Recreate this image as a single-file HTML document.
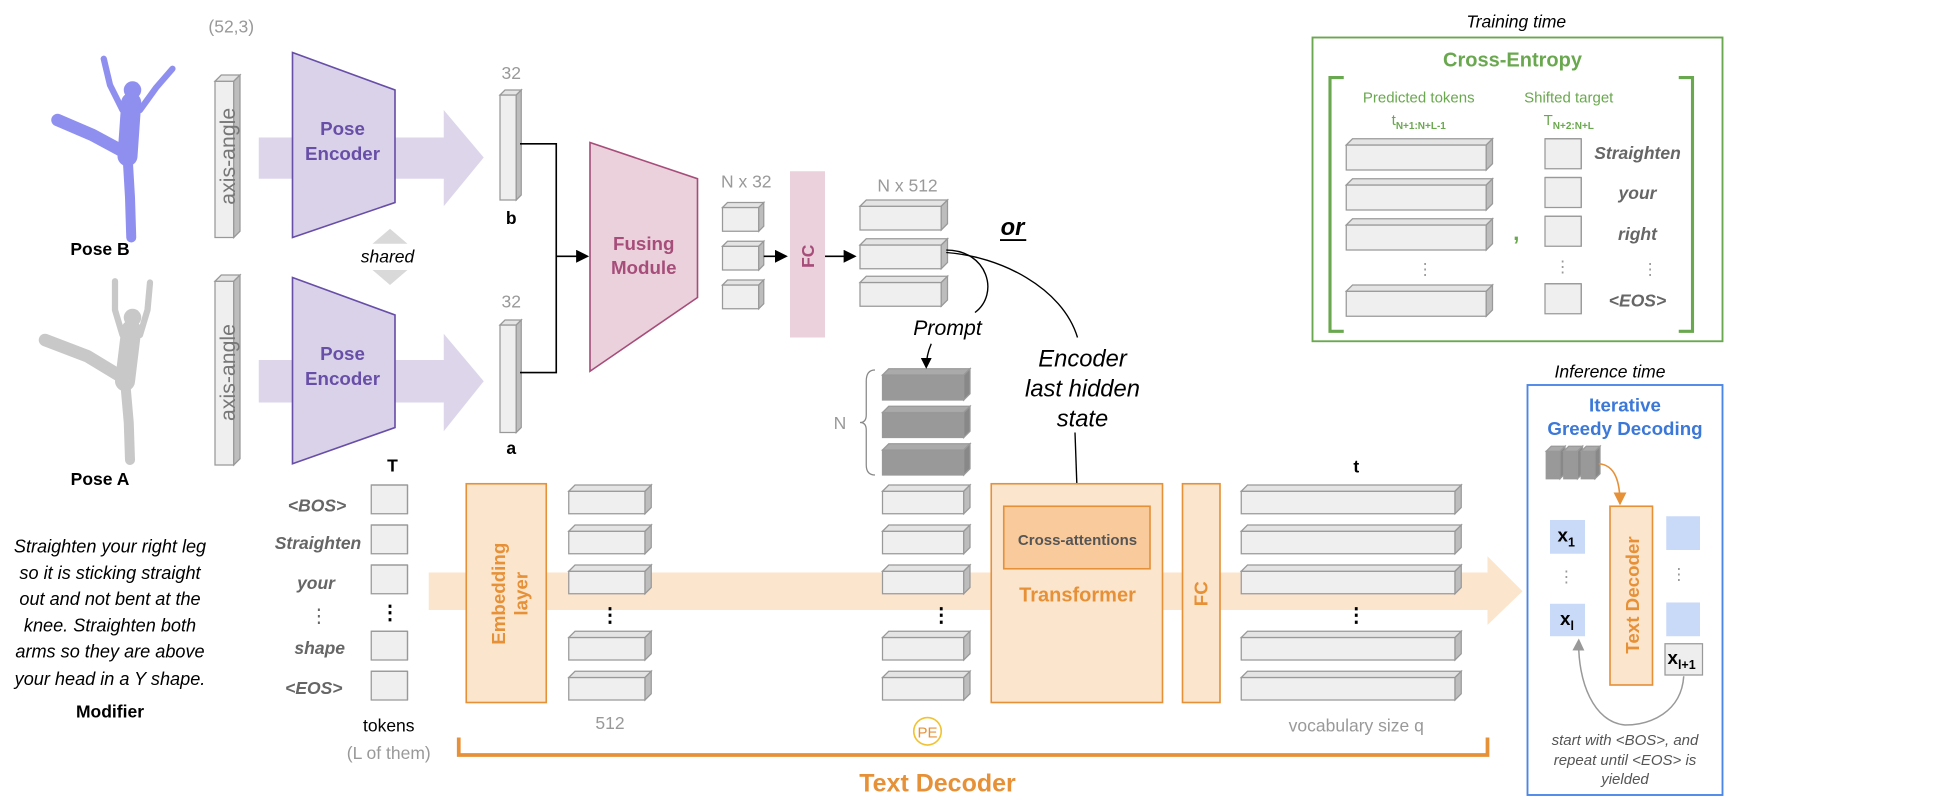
<!DOCTYPE html>
<html><head><meta charset="utf-8">
<style>
html,body{margin:0;padding:0;background:#fff;}
svg{display:block;}
text{font-family:"Liberation Sans",sans-serif;}
</style></head>
<body>
<svg id="s" width="1952" height="797" viewBox="0 0 1561.6 637.6" xmlns="http://www.w3.org/2000/svg">
<defs>
<marker id="ak" markerWidth="8" markerHeight="8" refX="7" refY="4" orient="auto"><path d="M0,0 L8,4 L0,8 z" fill="#000"/></marker>
<marker id="ao" markerWidth="8" markerHeight="8" refX="7" refY="4" orient="auto"><path d="M0,0 L8,4 L0,8 z" fill="#e69138"/></marker>
<marker id="ag" markerWidth="8" markerHeight="8" refX="7" refY="4" orient="auto"><path d="M0,0 L8,4 L0,8 z" fill="#999"/></marker>
</defs>

<!-- figures -->
<g stroke="#8f8ff0" stroke-linecap="round" stroke-linejoin="round" fill="none">
<circle cx="106" cy="72" r="7" fill="#8f8ff0" stroke="none"/>
<path d="M105,82 L102,125" stroke-width="16"/>
<path d="M98,88 L88,68 L83,47" stroke-width="5"/>
<path d="M112,88 L125,70 L138,55" stroke-width="5"/>
<path d="M100,122 L74,108 L46,96" stroke-width="10"/>
<path d="M102,124 L104,158 L105,190" stroke-width="8"/>
</g>
<g stroke="#c8c8c8" stroke-linecap="round" stroke-linejoin="round" fill="none">
<circle cx="106" cy="254" r="7" fill="#c8c8c8" stroke="none"/>
<path d="M105,264 L100,305" stroke-width="16"/>
<path d="M98,268 L92,248 L92,225" stroke-width="5"/>
<path d="M112,268 L118,248 L120,226" stroke-width="5"/>
<path d="M98,302 L70,285 L36,272" stroke-width="10"/>
<path d="M100,304 L103,338 L104,368" stroke-width="8"/>
</g>
<g font-weight="bold" font-size="14" text-anchor="middle">
<text x="80" y="204">Pose B</text>
<text x="80" y="388">Pose A</text>
</g>
<g font-style="italic" font-size="14.5" text-anchor="middle">
<text x="88" y="442">Straighten your right leg</text>
<text x="88" y="463">so it is sticking straight</text>
<text x="88" y="484">out and not bent at the</text>
<text x="88" y="505">knee. Straighten both</text>
<text x="88" y="526">arms so they are above</text>
<text x="88" y="548">your head in a Y shape.</text>
</g>
<text x="88" y="574" font-weight="bold" font-size="14" text-anchor="middle">Modifier</text>

<text x="185" y="26" font-size="14" fill="#999" text-anchor="middle">(52,3)</text>

<!-- purple arrows -->
<path d="M207,110 H355 V88 L387,126 L355,165 V143 H207 Z" fill="#d9d2e9" opacity="0.9"/>
<path d="M207,288 H355 V267 L387,305 L355,345 V322 H207 Z" fill="#d9d2e9" opacity="0.9"/>
<g id="boxes"></g>
<text transform="translate(188,125) rotate(-90)" font-size="17" fill="#777" text-anchor="middle">axis-angle</text>
<text transform="translate(188,298) rotate(-90)" font-size="17" fill="#777" text-anchor="middle">axis-angle</text>
<!-- encoders -->
<path d="M234,42 L316,72 L316,162 L234,190 Z" fill="#d9d2e9" stroke="#674ea7" stroke-width="1.3"/>
<path d="M234,222 L316,252 L316,342 L234,371 Z" fill="#d9d2e9" stroke="#674ea7" stroke-width="1.3"/>
<g font-weight="bold" font-size="15" fill="#674ea7" text-anchor="middle">
<text x="274" y="108">Pose</text><text x="274" y="128">Encoder</text>
<text x="274" y="288">Pose</text><text x="274" y="308">Encoder</text>
</g>
<path d="M298,195 L312,183 L326,195 Z" fill="#d9d9d9"/>
<path d="M298,216 L312,228 L326,216 Z" fill="#d9d9d9"/>
<text x="310" y="210" font-style="italic" font-size="14" text-anchor="middle">shared</text>

<g font-size="14" fill="#999" text-anchor="middle">
<text x="409" y="63">32</text><text x="409" y="246">32</text>
<text x="597" y="150">N x 32</text><text x="726" y="153">N x 512</text>
<text x="672" y="343">N</text>
<text x="488" y="583">512</text>
<text x="311" y="607">(L of them)</text>
<text x="1085" y="585">vocabulary size q</text>
</g>
<g font-weight="bold" font-size="14" text-anchor="middle">
<text x="409" y="179">b</text><text x="409" y="363">a</text>
<text x="314" y="377">T</text><text x="1085" y="378">t</text>
</g>
<text x="311" y="585" font-size="14" text-anchor="middle">tokens</text>

<path d="M416,115 H445 V298 H416" fill="none" stroke="#000" stroke-width="1.3"/>
<path d="M445,205 H470" stroke="#000" stroke-width="1.3" marker-end="url(#ak)"/>
<path d="M472,114 L558,143 L558,238 L472,297 Z" fill="#ead1dc" stroke="#a64d79" stroke-width="1.3"/>
<g font-weight="bold" font-size="15" fill="#a64d79" text-anchor="middle">
<text x="515" y="200">Fusing</text><text x="515" y="219">Module</text>
</g>
<rect x="632" y="137" width="28" height="133" fill="#ead1dc"/>
<text transform="translate(651,205) rotate(-90)" font-weight="bold" font-size="14" fill="#a64d79" text-anchor="middle">FC</text>
<path d="M611,205 H629" stroke="#000" stroke-width="1.3" marker-end="url(#ak)"/>
<path d="M660,205 H684" stroke="#000" stroke-width="1.3" marker-end="url(#ak)"/>
<text x="810" y="188" font-weight="bold" font-style="italic" font-size="19" text-anchor="middle">or</text>
<line x1="800" y1="192" x2="821" y2="192" stroke="#000" stroke-width="1.5"/>
<path d="M757,200 C790,200 800,235 780,250" fill="none" stroke="#000" stroke-width="1.1"/>
<path d="M757,202 C800,205 850,230 862,270" fill="none" stroke="#000" stroke-width="1.1"/>
<text x="758" y="268" font-style="italic" font-size="17" text-anchor="middle">Prompt</text>
<path d="M745,275 C742,282 741,288 741,294" fill="none" stroke="#000" stroke-width="1.1" marker-end="url(#ak)"/>
<g font-style="italic" font-size="19" text-anchor="middle">
<text x="866" y="293">Encoder</text><text x="866" y="317">last hidden</text><text x="866" y="341">state</text>
</g>
<path d="M860,346 L863,430" stroke="#000" stroke-width="1.1" marker-end="url(#ak)"/>
<path d="M700,296 Q693,296 693,305 V332 Q693,338 688,338 Q693,338 693,344 V372 Q693,380 700,380" fill="none" stroke="#888" stroke-width="1"/>

<!-- orange band -->
<path d="M343,458 H1190 V445 L1218,473 L1190,500 V488 H343 Z" fill="#fce5cd"/>
<rect x="373" y="387" width="64" height="175" fill="#fce5cd" stroke="#e69138" stroke-width="1.3"/>
<text transform="translate(412,475) rotate(-90)" font-weight="bold" font-size="15" fill="#e69138" text-anchor="middle"><tspan x="0" dy="-8">Embedding</tspan><tspan x="0" dy="18">layer</tspan></text>
<rect x="793" y="387" width="137" height="175" fill="#fce5cd" stroke="#e69138" stroke-width="1.3"/>
<rect x="803" y="405" width="117" height="50" fill="#f9cb9c" stroke="#e69138" stroke-width="1.3"/>
<text x="862" y="436" font-weight="bold" font-size="12" fill="#555" text-anchor="middle">Cross-attentions</text>
<text x="862" y="481" font-weight="bold" font-size="16" fill="#e69138" text-anchor="middle">Transformer</text>
<rect x="946" y="387" width="30" height="175" fill="#fce5cd" stroke="#e69138" stroke-width="1.3"/>
<text transform="translate(966,475) rotate(-90)" font-weight="bold" font-size="15" fill="#e69138" text-anchor="middle">FC</text>
<g id="boxes2"></g>
<g font-style="italic" font-weight="bold" font-size="14" fill="#666" text-anchor="end">
<text x="277" y="409">&lt;BOS&gt;</text><text x="289" y="439">Straighten</text><text x="268" y="471">your</text>
<text x="276" y="523">shape</text><text x="274" y="555">&lt;EOS&gt;</text>
</g>
<g font-weight="bold" font-size="16" text-anchor="middle">
<text x="312" y="495">⋮</text><text x="488" y="497">⋮</text><text x="753" y="497">⋮</text><text x="1085" y="497">⋮</text>
</g>
<text x="255" y="498" font-size="15" fill="#666" text-anchor="middle">⋮</text>
<circle cx="742" cy="585" r="11" fill="none" stroke="#f1c232" stroke-width="1.3"/>
<text x="742" y="590" font-size="12" fill="#e69138" text-anchor="middle">PE</text>
<path d="M367,590 V604 H1190 V590" fill="none" stroke="#e69138" stroke-width="3"/>
<text x="750" y="633" font-weight="bold" font-size="20" fill="#e69138" text-anchor="middle">Text Decoder</text>

<!-- training -->
<text x="1213" y="22" font-style="italic" font-size="14" text-anchor="middle">Training time</text>
<rect x="1050" y="30" width="328" height="243" fill="none" stroke="#6aa84f" stroke-width="1.5"/>
<text x="1210" y="53" font-weight="bold" font-size="16" fill="#6aa84f" text-anchor="middle">Cross-Entropy</text>
<path d="M1075,62 H1064 V265 H1075 M1343,62 H1354 V265 H1343" fill="none" stroke="#6aa84f" stroke-width="2.5"/>
<g font-size="12" fill="#6aa84f" text-anchor="middle">
<text x="1135" y="82">Predicted tokens</text><text x="1255" y="82">Shifted target</text>
<text x="1135" y="100">t<tspan font-size="8" font-weight="bold" dy="3">N+1:N+L-1</tspan></text>
<text x="1255" y="100">T<tspan font-size="8" font-weight="bold" dy="3">N+2:N+L</tspan></text>
</g>
<text x="1213" y="192" font-weight="bold" font-size="18" fill="#6aa84f" text-anchor="middle">,</text>
<g font-style="italic" font-weight="bold" font-size="14" fill="#666" text-anchor="middle">
<text x="1310" y="127">Straighten</text><text x="1310" y="159">your</text><text x="1310" y="192">right</text><text x="1310" y="245">&lt;EOS&gt;</text>
</g>
<g font-size="13" fill="#999" text-anchor="middle">
<text x="1140" y="220">⋮</text><text x="1250" y="218">⋮</text><text x="1320" y="220">⋮</text>
<text x="1253" y="466">⋮</text><text x="1343" y="464">⋮</text>
</g>

<!-- inference -->
<text x="1288" y="302" font-style="italic" font-size="14" text-anchor="middle">Inference time</text>
<rect x="1222" y="308" width="156" height="328" fill="none" stroke="#4a86e8" stroke-width="1.5"/>
<g font-weight="bold" font-size="15" fill="#3c78d8" text-anchor="middle">
<text x="1300" y="329">Iterative</text><text x="1300" y="348">Greedy Decoding</text>
</g>
<path d="M1279,371 C1292,372 1296,385 1296,403" fill="none" stroke="#e69138" stroke-width="1.3" marker-end="url(#ao)"/>
<rect x="1288" y="405" width="34" height="143" fill="#fce5cd" stroke="#e69138" stroke-width="1.3"/>
<text transform="translate(1311,476) rotate(-90)" font-weight="bold" font-size="15" fill="#e69138" text-anchor="middle">Text Decoder</text>
<rect x="1240" y="416" width="28" height="27" fill="#c9daf8"/>
<rect x="1240" y="483" width="28" height="26" fill="#c9daf8"/>
<rect x="1333" y="413" width="27" height="27" fill="#c9daf8"/>
<rect x="1333" y="482" width="27" height="27" fill="#c9daf8"/>
<rect x="1332" y="515" width="30" height="25" fill="#eee" stroke="#999"/>
<g font-weight="bold" font-size="15">
<text x="1246" y="433">x<tspan font-size="10" dy="4">1</tspan></text>
<text x="1248" y="500">x<tspan font-size="10" dy="4">l</tspan></text>
<text x="1334" y="531">x<tspan font-size="10" dy="4">l+1</tspan></text>
</g>
<path d="M1347,541 C1345,570 1320,580 1300,580 C1275,578 1262,545 1263,512" fill="none" stroke="#999" stroke-width="1.2" marker-end="url(#ag)"/>
<g font-style="italic" font-size="12" fill="#555" text-anchor="middle">
<text x="1300" y="596">start with &lt;BOS&gt;, and</text>
<text x="1300" y="612">repeat until &lt;EOS&gt; is</text>
<text x="1300" y="627">yielded</text>
</g>
</svg>
<script>
(function(){
var NS="http://www.w3.org/2000/svg";
function box(g,x,y,w,h,d,f,t,s){
 var p=[
  ["rect",{x:x,y:y+d,width:w-d,height:h-d,fill:f}],
  ["polygon",{points:[x,y+d,x+d,y,x+w,y,x+w-d,y+d].join(","),fill:t}],
  ["polygon",{points:[x+w-d,y+d,x+w,y,x+w,y+h-d,x+w-d,y+h].join(","),fill:s}]];
 p.forEach(function(e){var el=document.createElementNS(NS,e[0]);for(var k in e[1])el.setAttribute(k,e[1][k]);el.setAttribute("stroke","#999");el.setAttribute("stroke-width","1");g.appendChild(el);});
}
var L="#efefef",T="#e4e4e4",S="#bdbdbd";
var g=document.getElementById("boxes"),g2=document.getElementById("boxes2");
box(g,172,60,20,130,5,L,T,S);box(g,172,220,20,152,5,L,T,S);
box(g,400,72,17,88,4,L,T,S);box(g,400,256,17,90,4,L,T,S);
[162,193,224].forEach(function(y){box(g,578,y,33,23,4,L,T,S);});
[160,191,221].forEach(function(y){box(g,688,y,70,24,5,L,T,S);});
[295,325,355].forEach(function(y){box(g,706,y,70,25,5,"#999","#aaa","#888");});
[388,420,452,505,537].forEach(function(y){box(g2,297,y,29,23,0,L,T,S);});
[388,420,452,505,537].forEach(function(y){box(g2,455,y,66,23,5,L,T,S);box(g2,706,y,70,23,5,L,T,S);box(g2,993,y,176,23,5,L,T,S);});
[111,143,175,228].forEach(function(y){box(g2,1077,y,117,25,5,L,T,S);});
[111,142,173,227].forEach(function(y){box(g2,1236,y,29,24,0,L,T,S);});
[1237,1251,1265].forEach(function(x){box(g2,x,357,15,26,4,"#999","#aaa","#888");});
})();
</script>
</body></html>
